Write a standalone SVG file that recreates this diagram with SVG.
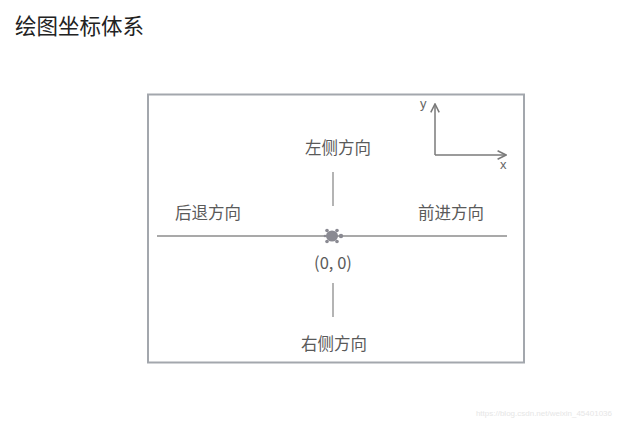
<svg xmlns="http://www.w3.org/2000/svg" width="640" height="425" viewBox="0 0 640 425">
  <style>
    .lbl { font-family: "Noto Sans CJK SC", "Liberation Sans", sans-serif; font-size: 16.5px; fill: #5a5a5a; text-anchor: middle; }
    .ax { font-family: "Liberation Sans", sans-serif; font-size: 13px; fill: #666; }
    .ln { stroke: #8c8c8c; stroke-width: 1.3; fill: none; }
    .axl { stroke: #7a7a7a; stroke-width: 1.5; fill: none; }
  </style>
  <defs>
    <marker id="arr" viewBox="0 0 10 10" refX="9" refY="5" markerWidth="7" markerHeight="7" orient="auto">
      <path d="M1,1 L9,5 L1,9" fill="none" stroke="#7a7a7a" stroke-width="1.5"/>
    </marker>
  </defs>
  <rect width="640" height="425" fill="#ffffff"/>
  <text x="15" y="34" font-family="Noto Sans CJK SC, sans-serif" font-size="21.5" fill="#222">绘图坐标体系</text>
  <g id="frame">
    <rect x="148" y="94.5" width="376" height="268" fill="none" stroke="#a3a7ad" stroke-width="2"/>
  </g>
  <g id="connectors">
    <line class="ln" x1="157" y1="236" x2="507" y2="236"/>
    <line class="ln" x1="333" y1="172" x2="333" y2="206"/>
    <line class="ln" x1="333" y1="283" x2="333" y2="317"/>
    <path class="axl" d="M435,155 L435,104" marker-end="url(#arr)"/>
    <path class="axl" d="M435,155 L506,155" marker-end="url(#arr)"/>
  </g>
  <g id="turtle" fill="#8a8a92">
    <ellipse cx="332" cy="236" rx="6" ry="5.5"/>
    <circle cx="341" cy="236" r="2.2"/>
    <circle cx="327" cy="230.5" r="1.8"/>
    <circle cx="337" cy="230.5" r="1.8"/>
    <circle cx="327" cy="241.5" r="1.8"/>
    <circle cx="337" cy="241.5" r="1.8"/>
    <circle cx="325" cy="236" r="1.3"/>
  </g>
  <g id="left"><text class="lbl" x="338" y="154">左侧方向</text></g>
  <g id="back"><text class="lbl" x="208" y="219">后退方向</text></g>
  <g id="forward"><text class="lbl" x="451" y="219">前进方向</text></g>
  <g id="origin"><text class="lbl" x="333" y="269" font-family="Liberation Sans, sans-serif">(0, 0)</text></g>
  <g id="right"><text class="lbl" x="334" y="350">右侧方向</text></g>
  <g id="axes-labels">
    <text class="ax" x="420" y="108">y</text>
    <text class="ax" x="500" y="169">x</text>
  </g>
  <text x="612" y="416" font-family="Liberation Sans, sans-serif" font-size="8" fill="#e6e6e6" text-anchor="end">https://blog.csdn.net/weixin_45401036</text>
</svg>
